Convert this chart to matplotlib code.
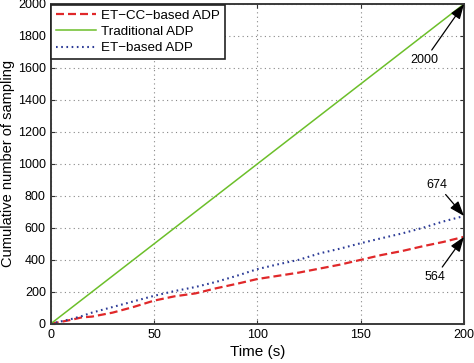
import numpy as np
import matplotlib
matplotlib.use('Agg')
import matplotlib.pyplot as plt

plt.rcParams['font.family'] = ['Liberation Sans', 'DejaVu Sans']

# data
t = [0, 10, 15, 20, 30, 40, 50, 60, 70, 80, 90, 100, 110, 120, 130, 140, 150, 160, 170, 180, 190, 200]
et_cc = [0, 25, 40, 45, 70, 105, 145, 172, 190, 222, 250, 280, 300, 320, 345, 370, 400, 430, 455, 485, 512, 544]
et = [0, 30, 48, 70, 105, 140, 175, 205, 230, 262, 300, 342, 372, 400, 440, 470, 504, 535, 565, 600, 640, 674]
t_trad = [0, 200]
trad = [0, 2000]

xticks = [0, 50, 100, 150, 200]
yticks = list(range(0, 2001, 200))

fig = plt.figure(figsize=(4.74, 3.63), dpi=100)
ax = fig.add_axes([0.107, 0.108, 0.872, 0.881])

ax.plot(t, et_cc, color='#e0282a', ls=(0, (3.6, 1.8)), lw=1.6, label='ET\u2212CC\u2212based ADP')
ax.plot(t_trad, trad, color='#6cbf2a', lw=1.1, label='Traditional ADP')
ax.plot(t, et, color='#2b3a96', ls=(0, (0.8, 1.7)), lw=1.5, label='ET\u2212based ADP')

ax.set_xlim(0, 200)
ax.set_ylim(0, 2000)
ax.set_xticks(xticks)
ax.set_yticks(yticks)
ax.grid(True, ls=(0, (1, 3)), color='#888888', lw=0.8)
ax.tick_params(direction='in', length=3, labelsize=9, colors='#333333', labelcolor='black',
               top=True, right=True)
for s in ax.spines.values():
    s.set_color('#3a3a3a')
    s.set_linewidth(1.4)

ax.set_xlabel('Time (s)', fontsize=11, labelpad=3)
ax.set_ylabel('Cumulative number of sampling', fontsize=10.5, labelpad=2)

leg = ax.legend(loc='upper left', fontsize=9.6, fancybox=False, framealpha=1,
                edgecolor='#222222', borderpad=0.35, labelspacing=0.3,
                handlelength=3.0, handletextpad=0.4, borderaxespad=0.05)
leg.get_frame().set_linewidth(1.2)

arw = dict(arrowstyle='-|>,head_length=0.7,head_width=0.25', color='black', lw=0.9,
           mutation_scale=13, shrinkA=1, shrinkB=0)
ax.annotate('2000', xy=(200, 2000), xytext=(181, 1650), ha='center', va='center',
            fontsize=9, arrowprops=arw)
ax.annotate('674', xy=(200, et[-1]), xytext=(187, 870), ha='center', va='center',
            fontsize=9, arrowprops=arw)
ax.annotate('564', xy=(200, et_cc[-1]), xytext=(186, 293), ha='center', va='center',
            fontsize=9, arrowprops=arw)

fig.savefig('out.png', dpi=100)
